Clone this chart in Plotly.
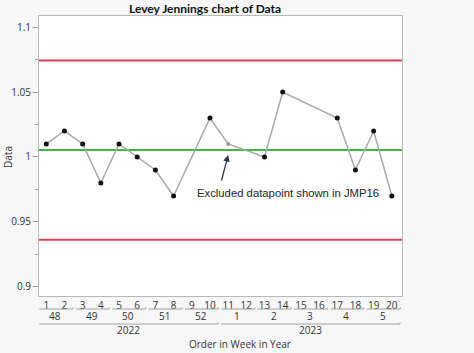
import plotly.graph_objects as go

order = list(range(1, 21))
data = [1.01, 1.02, 1.01, 0.98, 1.01, 1.00, 0.99, 0.97, None, 1.03,
        1.01, None, 1.00, 1.05, None, None, 1.03, 0.99, 1.02, 0.97]
excluded = [11]
weeks = ["48", "49", "50", "51", "52", "1", "2", "3", "4", "5"]
years = ["2022", "2023"]
center = 1.0053
ucl = 1.0743
lcl = 0.9363

pts = [(o, v) for o, v in zip(order, data) if v is not None]
inc = [(o, v) for o, v in pts if o not in excluded]
exc = [(o, v) for o, v in pts if o in excluded]

fig = go.Figure()
for yv, col in [(ucl, "#d6404f"), (lcl, "#d6404f"), (center, "#3cb83c")]:
    fig.add_trace(go.Scatter(x=[0.6, 20.56], y=[yv, yv], mode="lines",
                             line=dict(color=col, width=2), hoverinfo="skip"))
fig.add_trace(go.Scatter(x=[p[0] for p in pts], y=[p[1] for p in pts], mode="lines",
                         line=dict(color="#a8a8a8", width=1.5)))
fig.add_trace(go.Scatter(x=[p[0] for p in inc], y=[p[1] for p in inc], mode="markers",
                         marker=dict(color="#111111", size=5)))
fig.add_trace(go.Scatter(x=[p[0] for p in exc], y=[p[1] for p in exc], mode="markers",
                         marker=dict(color="#999999", size=4)))

font = "Open Sans, Segoe UI, sans-serif"
L, T, R, B = 39, 16, 402, 296
W, H = float(R - L), float(B - T)
def py(p):
    return (B - p) / H
def px(p):
    return (p - L) / W

shapes = []
annots = []
lc = "#a0a0a0"
for i, w in enumerate(weeks):
    a = 2 * i + 1
    lo, hi = a - 0.38, a + 1 + 0.47
    shapes.append(dict(type="line", xref="x", yref="paper", x0=lo, x1=hi,
                       y0=py(309), y1=py(309), line=dict(color=lc, width=1)))
    shapes.append(dict(type="line", xref="x", yref="paper", x0=hi, x1=hi,
                       y0=py(309), y1=py(307.5), line=dict(color=lc, width=1)))
    annots.append(dict(x=a + 0.5, y=py(316), xref="x", yref="paper", text=w,
                       xanchor="center", yanchor="middle",
                       showarrow=False, font=dict(family=font, size=10, color="#333")))
for j, yr in enumerate(years):
    lo = 0.62 if j == 0 else 10.62
    hi = 10.45 if j == 0 else 20.45
    shapes.append(dict(type="line", xref="x", yref="paper", x0=lo, x1=hi,
                       y0=py(324), y1=py(324), line=dict(color=lc, width=1)))
    shapes.append(dict(type="line", xref="x", yref="paper", x0=hi, x1=hi,
                       y0=py(324), y1=py(322.5), line=dict(color=lc, width=1)))
    annots.append(dict(x=(lo + hi) / 2, y=py(330), xref="x", yref="paper", text=yr,
                       xanchor="center", yanchor="middle",
                       showarrow=False, font=dict(family=font, size=10, color="#333")))

annots.append(dict(x=px(205), y=py(8), xref="paper", yref="paper",
                   xanchor="center", yanchor="middle",
                   text="<b>Levey Jennings chart of Data</b>", showarrow=False,
                   font=dict(family="Lato, sans-serif", size=12, color="#111")))
annots.append(dict(x=px(240), y=py(344), xref="paper", yref="paper",
                   xanchor="center", yanchor="middle",
                   text="Order in Week in Year", showarrow=False,
                   font=dict(family=font, size=10, color="#333")))
annots.append(dict(x=px(8), y=py(157), xref="paper", yref="paper",
                   xanchor="center", yanchor="middle", textangle=-90,
                   text="Data", showarrow=False,
                   font=dict(family=font, size=10, color="#333")))
annots.append(dict(x=11, y=1.0015, xref="x", yref="y", ax=-7, ay=27,
                   showarrow=True, arrowhead=2, arrowsize=1, arrowwidth=1.3,
                   arrowcolor="#2a3550", text=""))
annots.append(dict(x=px(195), y=py(193), xref="paper", yref="paper",
                   xanchor="left", yanchor="middle",
                   text="Excluded datapoint shown in JMP16", showarrow=False,
                   font=dict(family="Liberation Sans, Arial", size=11.3, color="#222")))

fig.update_layout(
    width=474, height=353, showlegend=False,
    margin=dict(l=L, r=474 - R, t=T, b=353 - B, autoexpand=False),
    paper_bgcolor="#f7f7f7", plot_bgcolor="#ffffff",
    shapes=shapes, annotations=annots,
    xaxis=dict(range=[0.6, 20.56], tickvals=order, ticktext=[str(o) for o in order],
               ticks="", showgrid=False, zeroline=False, showline=True, mirror=True,
               linecolor="#b8b8b8", linewidth=1, automargin=False,
               tickfont=dict(family=font, size=10, color="#333")),
    yaxis=dict(range=[0.893, 1.1085], tickvals=[0.9, 0.95, 1.0, 1.05, 1.1],
               ticktext=["0.9", "0.95", "1", "1.05", "1.1"],
               ticks="outside", ticklen=5, tickcolor="#999",
               minor=dict(tickvals=[0.925, 0.975, 1.025, 1.075], ticks="outside",
                          ticklen=3, tickcolor="#aaa"),
               showgrid=False, zeroline=False, showline=True, mirror=True,
               linecolor="#b8b8b8", linewidth=1, automargin=False,
               tickfont=dict(family=font, size=10, color="#333")),
)
fig.write_html("out.html")
